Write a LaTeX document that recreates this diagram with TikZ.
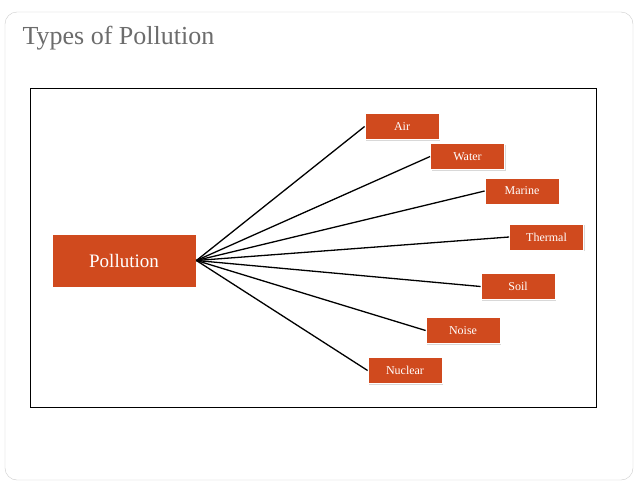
\documentclass[tikz,border=0pt]{standalone}
\usepackage{fontspec}
\setmainfont{Liberation Serif}
\usetikzlibrary{shadows}
\definecolor{boxc}{HTML}{D04A1E}
\tikzset{
  leaf/.style={draw=white,line width=0.8pt,fill=boxc,text=white,minimum width=74pt,minimum height=26pt,inner sep=1pt,font=\fontsize{12}{14}\selectfont,drop shadow={opacity=0.3,shadow xshift=1pt,shadow yshift=-1pt}},
  link/.style={line width=1.3pt,black}
}
\begin{document}
\begin{tikzpicture}[x=1pt,y=-1pt]
\useasboundingbox (0,0) rectangle (638,493);
\fill[white] (0,0) rectangle (638,493);
\draw[gray!40,rounded corners=12pt] (5,12) rectangle (633,480);
\node[anchor=west,text=gray!85!black,font=\fontsize{26}{30}\selectfont] (title) at (19,38) {Types of Pollution};
\draw[black,line width=0.9pt] (30,88) rectangle (596,407);
\node[leaf,minimum width=144pt,minimum height=53pt,font=\fontsize{19}{22}\selectfont] (p) at (124,260.5) {Pollution};
\node[leaf] (air) at (402,126.5) {Air};
\node[leaf] (water) at (467.5,156.5) {Water};
\node[leaf] (marine) at (522,191) {Marine};
\node[leaf] (thermal) at (546.5,237) {Thermal};
\node[leaf] (soil) at (518,286.5) {Soil};
\node[leaf] (noise) at (463,330.5) {Noise};
\node[leaf] (nuclear) at (405,370.5) {Nuclear};
\foreach \n in {air,water,marine,thermal,soil,noise,nuclear}
  \draw[link] (p.east) -- (\n.west);
\end{tikzpicture}
\end{document}
